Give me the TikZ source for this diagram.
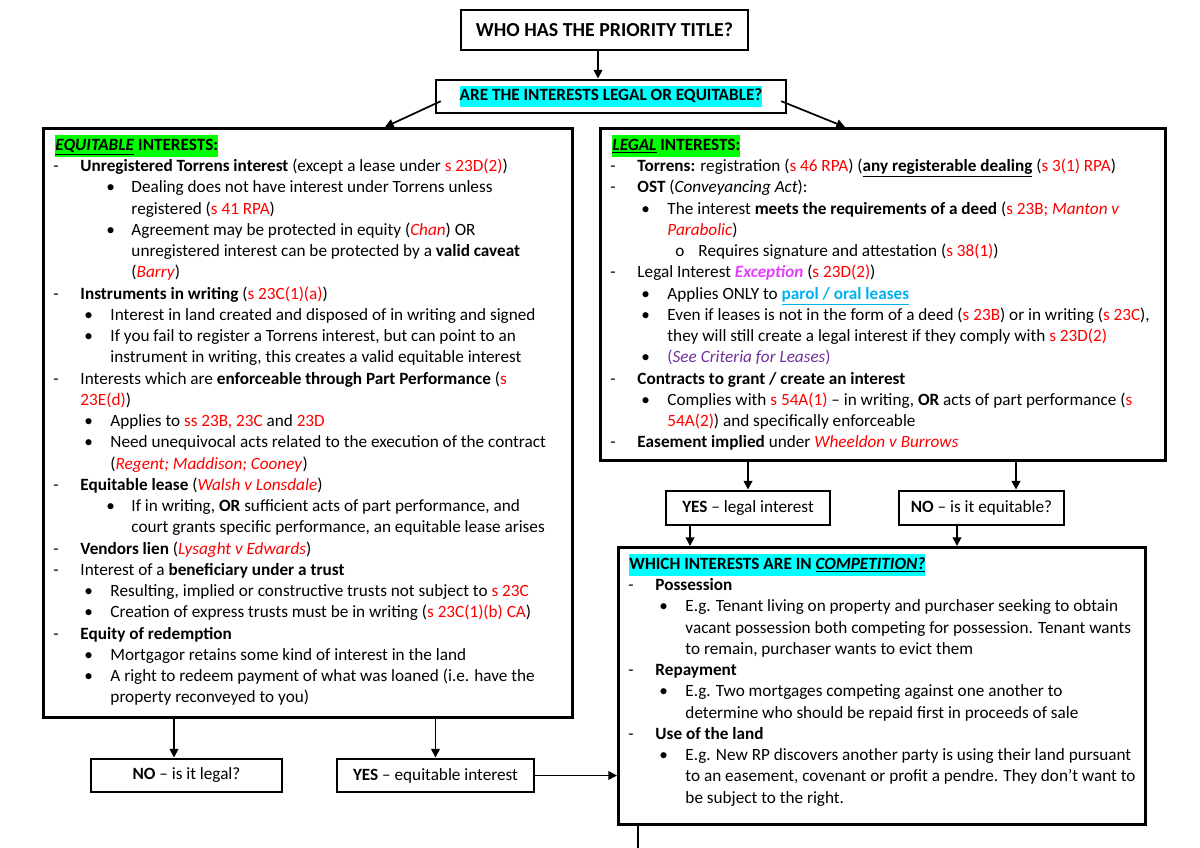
\documentclass[tikz,border=0pt]{standalone}
\usepackage{fontspec}
\setmainfont{Carlito}
\usetikzlibrary{arrows.meta}

\newlength\px \setlength\px{0.64pt}
\definecolor{hlgreen}{HTML}{00FF00}
\definecolor{hlcyan}{HTML}{00FFFF}
\definecolor{refred}{HTML}{FF0000}
\definecolor{excmag}{HTML}{E040FB}
\definecolor{critpurple}{HTML}{7030A0}
\definecolor{parolblue}{HTML}{00B0F0}

\newcommand\rd[1]{\textcolor{refred}{#1}}
\newcommand\hlg[1]{\hspace*{8\px}{\setlength\fboxsep{0pt}\colorbox{hlgreen}{\strut#1}}}
\newcommand\hlc[1]{{\setlength\fboxsep{0pt}\colorbox{hlcyan}{\strut#1}}}
\newcommand\dashline{\par\hangindent=33\px\noindent\hbox to 33\px{\hskip6\px-\hfil}}
\newcommand\bulline{\par\hangindent=63\px\noindent\hbox to 63\px{\hskip37\px\textbullet\hfil}}
\newcommand\deepbul{\par\hangindent=84\px\noindent\hbox to 84\px{\hskip59\px\textbullet\hfil}}
\newcommand\circline{\par\hangindent=94\px\noindent\hbox to 94\px{\hskip71\px o\hfil}}
\newcommand\boxtext[3]{\parbox[c][#2\px][t]{#1\px}{\rightskip=0pt plus 1fil\parindent=0pt\parskip=0pt #3}}

\begin{document}
\begin{tikzpicture}[x=0.64pt, y=-0.64pt, font=\fontsize{11}{13.6}\selectfont,
  box/.style={draw, line width=1.9pt},
  bigbox/.style={box, anchor=north west, inner xsep=4\px, inner ysep=7\px},
  arr/.style={line width=1.1pt, -{Triangle[length=5.5pt,width=5.5pt]}}]

\useasboundingbox (0,0) rectangle (1200,848);

% question boxes
\node[box, minimum width=287\px, minimum height=40\px, font=\fontsize{12.7}{15}\selectfont] (title) at (604.5,30) {\textbf{WHO HAS THE PRIORITY TITLE?}};
\node[box, minimum width=350\px, minimum height=33\px] (qbox) at (611,96.5) {\hlc{\textbf{ARE THE INTERESTS LEGAL OR EQUITABLE?}}};

% equitable interests
\node[bigbox] (equit) at (42,127) {\boxtext{521}{575}{%
\hlg{\textbf{\underline{\textit{EQUITABLE}} INTERESTS:}}
\dashline \textbf{Unregistered Torrens interest} (except a lease under \rd{s 23D(2)})
\deepbul Dealing does not have interest under Torrens unless\\ registered (\rd{s 41 RPA})
\deepbul Agreement may be protected in equity (\rd{\textit{Chan}}) OR\\ unregistered interest can be protected by a \textbf{valid caveat}\\ (\rd{\textit{Barry}})
\dashline \textbf{Instruments in writing} (\rd{s 23C(1)(a)})
\bulline Interest in land created and disposed of in writing and signed
\bulline If you fail to register a Torrens interest, but can point to an\\ instrument in writing, this creates a valid equitable interest
\dashline Interests which are \textbf{enforceable through Part Performance} (\rd{s}\\ \rd{23E(d)})
\bulline Applies to \rd{ss 23B, 23C} and \rd{23D}
\bulline Need unequivocal acts related to the execution of the contract\\ (\rd{\textit{Regent; Maddison; Cooney}})
\dashline \textbf{Equitable lease} (\rd{\textit{Walsh v Lonsdale}})
\deepbul If in writing, \textbf{OR} sufficient acts of part performance, and\\ court grants specific performance, an equitable lease arises
\dashline \textbf{Vendors lien} (\rd{\textit{Lysaght v Edwards}})
\dashline Interest of a \textbf{beneficiary under a trust}
\bulline Resulting, implied or constructive trusts not subject to \rd{s 23C}
\bulline Creation of express trusts must be in writing (\rd{s 23C(1)(b) CA})
\dashline \textbf{Equity of redemption}
\bulline Mortgagor retains some kind of interest in the land
\bulline A right to redeem payment of what was loaned (i.e. have the\\ property reconveyed to you)}};

% legal interests
\node[bigbox] (legal) at (599,127) {\boxtext{557}{318}{%
\hlg{\textbf{\underline{\textit{LEGAL}} INTERESTS:}}
\dashline \textbf{Torrens:} registration (\rd{s 46 RPA}) (\textbf{\underline{any registerable dealing}} (\rd{s 3(1) RPA})
\dashline \textbf{OST} (\textit{Conveyancing Act}):
\bulline The interest \textbf{meets the requirements of a deed} (\rd{s 23B; \textit{Manton v}}\\ \rd{\textit{Parabolic}})
\circline Requires signature and attestation (\rd{s 38(1)})
\dashline Legal Interest \textcolor{excmag}{\textbf{\textit{Exception}}} (\rd{s 23D(2)})
\bulline Applies ONLY to \textcolor{parolblue}{\textbf{\underline{parol / oral leases}}}
\bulline Even if leases is not in the form of a deed (\rd{s 23B}) or in writing (\rd{s 23C}),\\ they will still create a legal interest if they comply with \rd{s 23D(2)}
\bulline \textcolor{critpurple}{(\textit{See Criteria for Leases})}
\dashline \textbf{Contracts to grant / create an interest}
\bulline Complies with \rd{s 54A(1)} -- in writing, \textbf{OR} acts of part performance (\rd{s}\\ \rd{54A(2)}) and specifically enforceable
\dashline \textbf{Easement implied} under \rd{\textit{Wheeldon v Burrows}}}};

% answers
\node[box, minimum width=164\px, minimum height=34\px] (yesleg) at (748,508) {\textbf{YES} -- legal interest};
\node[box, minimum width=165\px, minimum height=34\px] (noeq) at (981.5,508) {\textbf{NO} -- is it equitable?};
\node[box, minimum width=191\px, minimum height=33\px] (noleg) at (186.5,775.5) {\textbf{NO} -- is it legal?};
\node[box, minimum width=197\px, minimum height=33\px] (yeseq) at (435.5,775.5) {\textbf{YES} -- equitable interest};

% competition
\node[bigbox] (comp) at (617,546) {\boxtext{519}{263}{%
\hspace*{7\px}\hlc{\textbf{WHICH INTERESTS ARE IN \underline{\textit{COMPETITION?}}}}
\dashline \textbf{Possession}
\bulline E.g. Tenant living on property and purchaser seeking to obtain\\ vacant possession both competing for possession. Tenant wants\\ to remain, purchaser wants to evict them
\dashline \textbf{Repayment}
\bulline E.g. Two mortgages competing against one another to\\ determine who should be repaid first in proceeds of sale
\dashline \textbf{Use of the land}
\bulline E.g. New RP discovers another party is using their land pursuant\\ to an easement, covenant or profit a pendre. They don't want to\\ be subject to the right.}};

% arrow columns
\coordinate (titlecol) at (598,0);
\coordinate (eqcol) at (385,0);
\coordinate (legcol) at (845,0);
\coordinate (noeqcol) at (1016,0);
\coordinate (ylcol) at (690,0);
\coordinate (necol) at (957,0);
\coordinate (nlcol) at (174,0);
\coordinate (tailend) at (638,848);

\draw[arr] (title.south -| titlecol) -- (qbox.north -| titlecol);
\draw[arr] ([xshift=4pt,yshift=-3pt]qbox.west) -- (equit.north -| eqcol);
\draw[arr] ([xshift=-4pt,yshift=-3pt]qbox.east) -- (legal.north -| legcol);
\draw[arr] (legal.south -| yesleg) -- (yesleg.north);
\draw[arr] (legal.south -| noeqcol) -- (noeq.north -| noeqcol);
\draw[arr] (yesleg.south -| ylcol) -- (comp.north -| ylcol);
\draw[arr] (noeq.south -| necol) -- (comp.north -| necol);
\draw[arr] (equit.south -| nlcol) -- (noleg.north -| nlcol);
\draw[arr] (equit.south -| yeseq) -- (yeseq.north);
\draw[arr] (yeseq.east) -- (yeseq.east -| comp.west);
\draw[line width=1.1pt] (comp.south -| tailend) -- (tailend);

\end{tikzpicture}
\end{document}
